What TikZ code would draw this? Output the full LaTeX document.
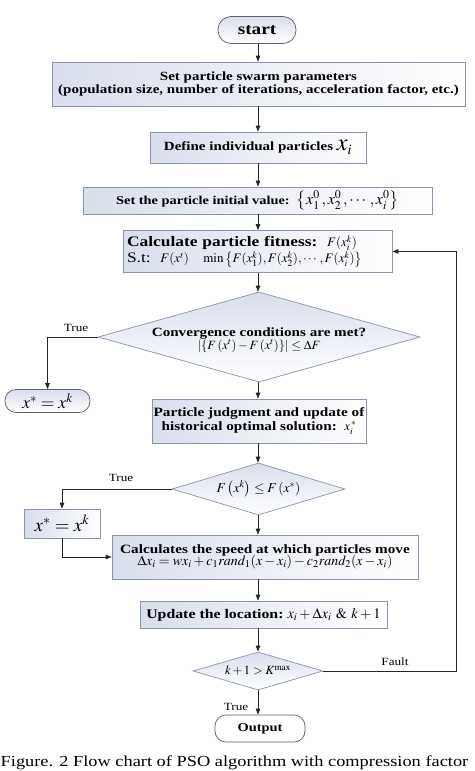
\documentclass[tikz,border=0pt]{standalone}
\usepackage{amsmath}
\usepackage{mathptmx}
\usepackage{fontspec}
\setmainfont[FakeStretch=1.2]{Liberation Serif}
\usetikzlibrary{arrows.meta,shapes.geometric}
\definecolor{boxline}{HTML}{8A94AE}
\definecolor{boxfill}{HTML}{D9DEEC}
\definecolor{pillline}{HTML}{606060}
\newcommand{\fs}[1]{\fontsize{#1}{#1}\selectfont}
\tikzset{
  box/.style={draw=boxline,line width=0.7pt,left color=boxfill,right color=white,inner sep=0pt,align=center,font=\bfseries\fontsize{12.5}{14}\selectfont},
  pill/.style={draw=pillline,line width=0.7pt,top color=boxfill,bottom color=white,rounded corners=11pt,inner sep=0pt,align=center,font=\bfseries\fontsize{16}{16}\selectfont},
  dia/.style={diamond,draw=boxline,line width=0.7pt,top color=boxfill,bottom color=white,inner sep=0pt},
  dtext/.style={align=center,font=\bfseries\fontsize{12.6}{14}\selectfont,inner sep=0pt},
  arr/.style={-{Triangle[length=6pt,width=4.5pt]},line width=0.7pt,black!85},
  lab/.style={font=\fontsize{11}{12}\selectfont,inner sep=0pt}
}
\begin{document}
\begin{tikzpicture}[x=1pt,y=-1pt]
\useasboundingbox (0,0) rectangle (474,771);
\coordinate (col) at (258,0);
\node[pill,minimum width=78pt,minimum height=27pt,rounded corners=13pt] (start) at (257,30) {start};
\node[box,minimum width=413pt,minimum height=44pt] (b1) at (258.5,84) {Set particle swarm parameters\\[-1pt]{\fontsize{12.5}{13}\selectfont (population size, number of iterations, acceleration factor, etc.)}};
\node[box,minimum width=216pt,minimum height=31pt,font=\bfseries\fs{12.5}] (b2) at (258,147.5) {Define individual particles\ {\fs{24}$x_{\scriptscriptstyle i}$}};
\node[box,minimum width=349pt,minimum height=27pt,font=\bfseries\fs{12}] (b3) at (257.5,200.5) {Set the particle initial value:\ \ \mdseries{\fs{16}$\left\{x_1^{0}\,,x_2^{0}\,,\cdots,x_i^{0}\right\}$}};
\node[box,minimum width=269pt,minimum height=42pt,align=left,text width=261pt,font=\bfseries\fontsize{14.5}{14}\selectfont] (b4) at (257.5,251.5) {Calculate particle fitness:\ \ \mdseries{\fs{13}$F(x_i^k)$}\\[0pt]S.t:\ \ \mdseries{\fs{13}$F(x^t)\quad\min\left\{F(x_1^k),F(x_2^k),\cdots,F(x_i^k)\right\}$}};
\node[dia,minimum width=322pt,minimum height=90pt] (d1) at (259,337) {};
\node[dtext] (d1t) at (259,340) {Convergence conditions are met?\\[-1pt]\mdseries{\fs{12.6}$\left|\left\{F\left(x^t\right)-F\left(x^t\right)\right\}\right|\le\Delta F$}};
\node[pill,minimum width=85pt,minimum height=23pt,font=\fs{17.5}] (x1) at (47.5,401) {$\boldsymbol{x^{*}=x^{k}}$};
\node[box,minimum width=214pt,minimum height=44pt,font=\bfseries\fs{12.7}] (b5) at (259,421) {Particle judgment and update of\\[1pt]historical optimal solution:\ \ \mdseries$x_{i}^{\,*}$};
\node[dia,minimum width=173pt,minimum height=52pt] (d2) at (258.5,489) {};
\node[dtext,font=\fs{13.5}] (d2t) at (258.5,489) {$F\left(x^k\right)\le F\left(x^{*}\right)$};
\node[box,minimum width=76pt,minimum height=29pt,font=\fs{19}] (x2) at (62,523.5) {$\boldsymbol{x^{*}=x^{k}}$};
\node[box,minimum width=306pt,minimum height=44pt,font=\bfseries\fs{12.7}] (b6) at (265,557) {Calculates the speed at which particles move\\[-2pt]\mdseries{\fs{14}$\Delta x_i=wx_i+c_1rand_1(x-x_i)-c_2rand_2(x-x_i)$}};
\node[box,minimum width=247pt,minimum height=27pt,font=\bfseries\fs{13.2}] (b7) at (263.5,614.5) {Update the location:\ \mdseries{\fs{14.5}$x_i+\Delta x_i\ \&\ k+1$}};
\node[dia,minimum width=130pt,minimum height=38pt] (d3) at (258,671) {};
\node[dtext,font=\fs{12.5}] (d3t) at (258,671) {$k+1>K^{\max}$};
\node[pill,minimum width=90pt,minimum height=27pt,top color=white,font=\bfseries\fs{12}] (out) at (260,728.5) {Output};
\draw[arr] (start.south -| col) -- (b1.north -| col);
\draw[arr] (b1.south -| col) -- (b2.north -| col);
\draw[arr] (b2.south -| col) -- (b3.north -| col);
\draw[arr] (b3.south -| col) -- (b4.north -| col);
\draw[arr] (b4.south -| col) -- (d1.north -| col);
\draw[arr] (d1.south -| col) -- (b5.north -| col);
\draw[arr] (b5.south -| col) -- (d2.north -| col);
\draw[arr] (d2.south -| col) -- (b6.north -| col);
\draw[arr] (b6.south -| col) -- (b7.north -| col);
\draw[arr] (b7.south -| col) -- (d3.north -| col);
\draw[arr] (d3.south -| col) -- (out.north -| col);
\draw[arr] (d1.west) -| (x1.north);
\draw[arr] (d2.west) -| (x2.north);
\draw[arr] (x2.south) |- (b6.west);
\coordinate (rt) at (456,671);
\draw[arr] (d3.east) -- (rt) |- (b4.east);
\node[lab] (t1) at (76,328) {True};
\node[lab] (t2) at (121,478) {True};
\node[lab] (f1) at (395,662) {Fault};
\node[lab] (t3) at (236,707) {True};
\node[inner sep=0pt,font=\fs{15.3},anchor=base west] (cap) at (0.5,766) {Figure. 2 Flow chart of PSO algorithm with compression factor};
\end{tikzpicture}
\end{document}
